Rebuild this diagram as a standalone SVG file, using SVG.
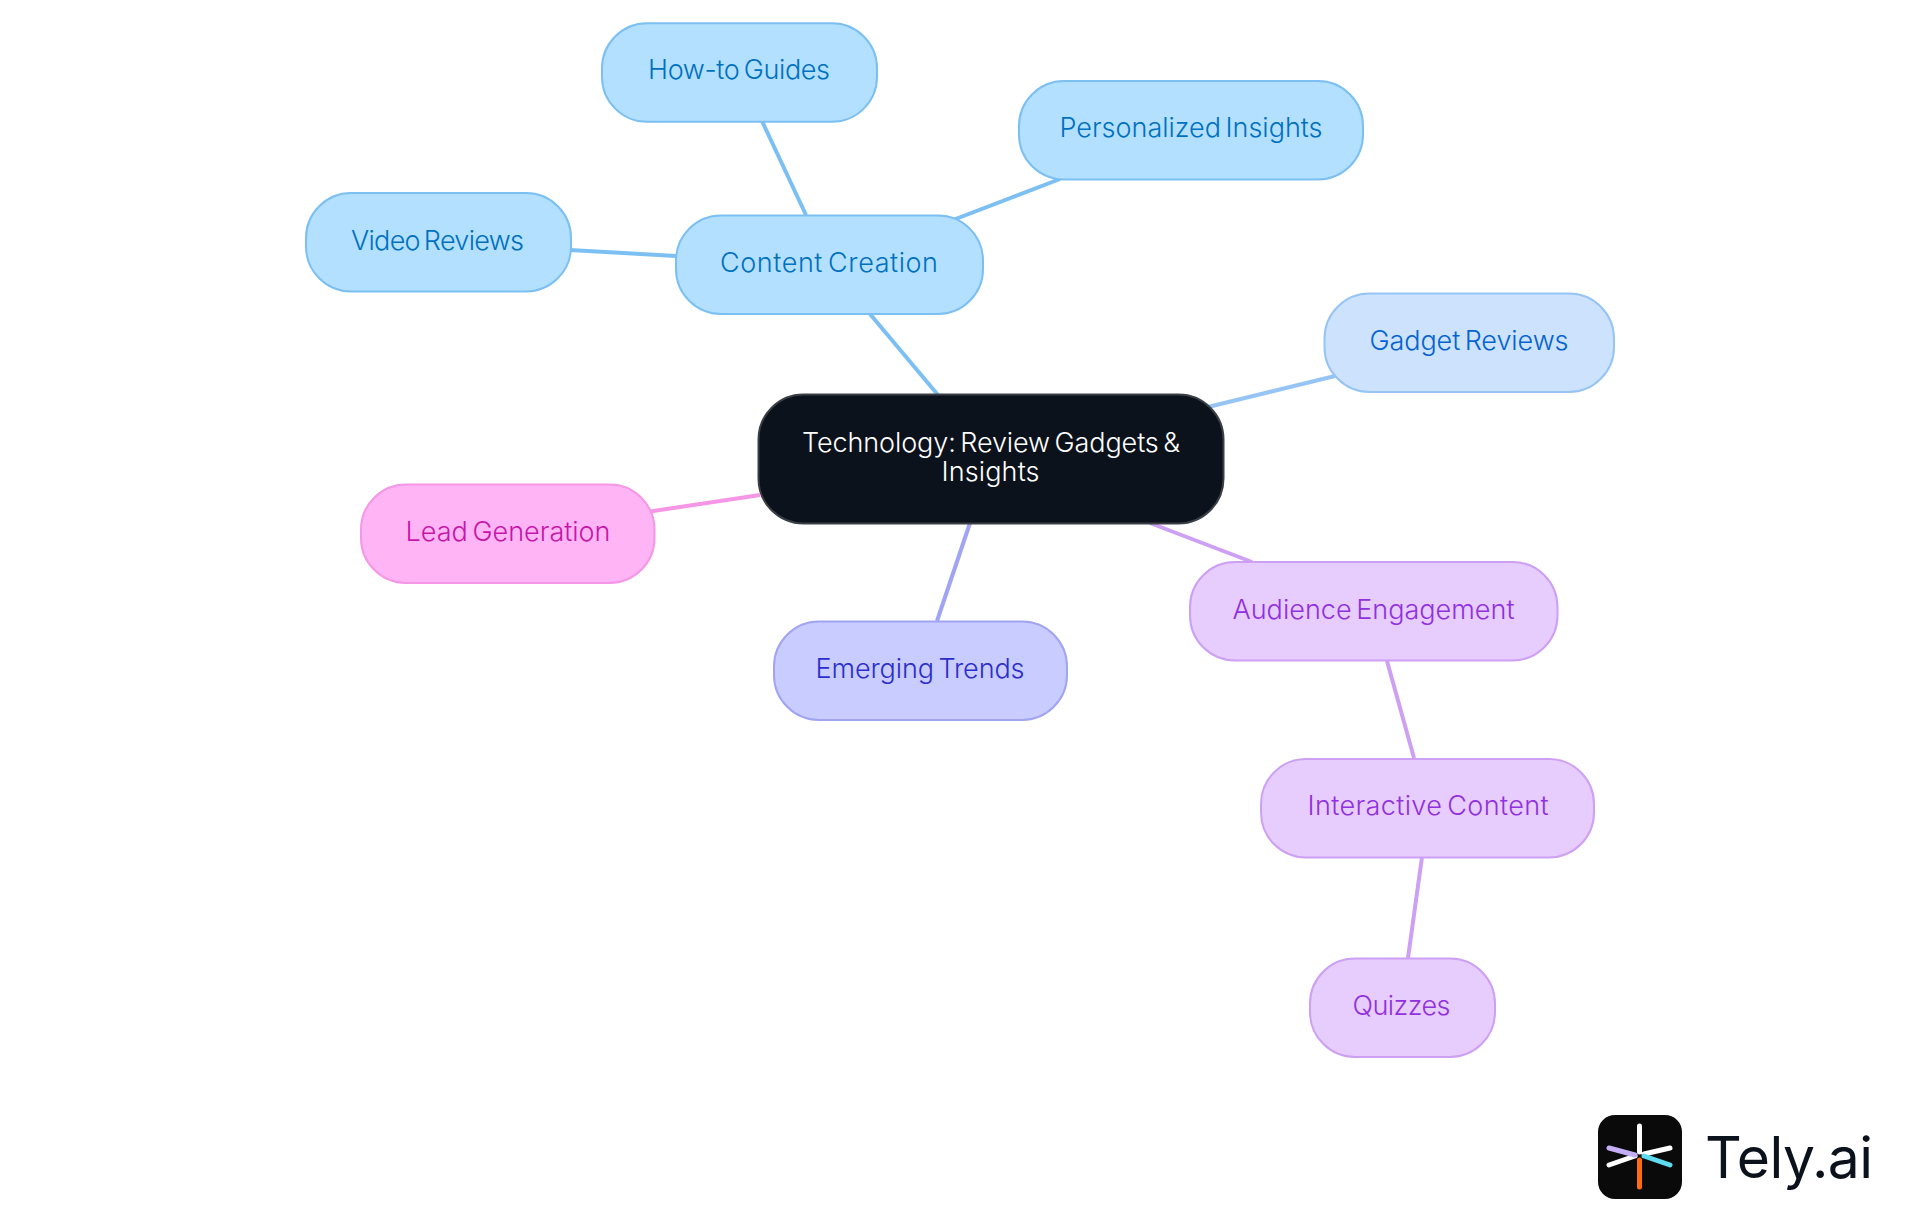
<svg xmlns="http://www.w3.org/2000/svg" width="1920" height="1215" viewBox="0 0 1920 1215">
<style>
text{font-family:Inter,"Noto Sans","Liberation Sans",sans-serif;font-size:27px;font-weight:350;text-anchor:middle;word-spacing:-3px}
.c{fill:none;stroke-width:4;stroke-linecap:butt}
.n{stroke-width:2}
.blue rect{fill:#b3e0ff;stroke:#7cc0f3}.blue text{fill:#0070c0}
.gad rect{fill:#cce2fd;stroke:#96c4f4}.gad text{fill:#0563d0}
.pink rect{fill:#ffb5f5;stroke:#f596e6}.pink text{fill:#c616a8}
.ind rect{fill:#c9ccff;stroke:#a0a4f3}.ind text{fill:#2c2ecc}
.pur rect{fill:#e7ccfe;stroke:#cda0f4}.pur text{fill:#9130dd}
</style>
<rect width="1920" height="1215" fill="#fff"/>
<g id="connectors">
<path class="c" stroke="#7cc0f3" d="M870 314L938 395M806 215L762 121M953 220L1060 179M676 256L570 250"/>
<path class="c" stroke="#96c4f4" d="M1208 407L1335 376"/>
<path class="c" stroke="#f596e6" d="M650 511.500L760 495"/>
<path class="c" stroke="#a0a4f3" d="M937 621L970 523"/>
<path class="c" stroke="#cda0f4" d="M1150 523L1252 562M1387 661L1414 758M1422 857L1408 958"/>
</g>
<g id="central"><rect x="758.500" y="394.500" width="465" height="129" rx="45" fill="#0c121b" stroke="#3a3f46" stroke-width="2"/>
<text x="991" y="451.500" fill="#fff" textLength="378">Technology: Review Gadgets &amp;</text><text x="990.500" y="481" fill="#fff" textLength="98">Insights</text></g>
<g id="howto" class="blue"><rect class="n" x="602" y="23.300" width="275" height="98.500" rx="45"/><text x="739" y="79" textLength="182">How-to Guides</text></g>
<g id="personalized" class="blue"><rect class="n" x="1019" y="81" width="344" height="98.500" rx="45"/><text x="1191" y="137" textLength="263">Personalized Insights</text></g>
<g id="video" class="blue"><rect class="n" x="306" y="193" width="265" height="98.500" rx="45"/><text x="437.500" y="250" textLength="173">Video Reviews</text></g>
<g id="content" class="blue"><rect class="n" x="676" y="215.500" width="307" height="98.500" rx="45"/><text x="829" y="272" textLength="218">Content Creation</text></g>
<g id="gadget" class="gad"><rect class="n" x="1324.500" y="293.500" width="289.500" height="98.500" rx="45"/><text x="1469" y="350" textLength="199">Gadget Reviews</text></g>
<g id="lead" class="pink"><rect class="n" x="361" y="484.500" width="293.500" height="98.500" rx="45"/><text x="508" y="541" textLength="205">Lead Generation</text></g>
<g id="emerging" class="ind"><rect class="n" x="774" y="621.500" width="293" height="98.500" rx="45"/><text x="920" y="678" textLength="209">Emerging Trends</text></g>
<g id="audience" class="pur"><rect class="n" x="1190" y="562" width="367.500" height="98.500" rx="45"/><text x="1373.500" y="619" textLength="282">Audience Engagement</text></g>
<g id="interactive" class="pur"><rect class="n" x="1261" y="759" width="333" height="98.500" rx="45"/><text x="1428" y="815" textLength="241">Interactive Content</text></g>
<g id="quizzes" class="pur"><rect class="n" x="1310" y="958.500" width="185" height="98.500" rx="45"/><text x="1401.500" y="1015" textLength="98">Quizzes</text></g>
<g id="logo">
<rect x="1598" y="1115" width="84" height="84" rx="17" fill="#0a0a0a"/>
<g stroke-width="5" stroke-linecap="round" fill="none">
<path stroke="#fff" d="M1639.500 1126V1152M1609 1165L1635 1156M1644 1154L1670 1148"/>
<path stroke="#c4aef5" d="M1609 1148L1635 1155"/>
<path stroke="#5fdcef" d="M1644 1156L1670 1165"/>
<path stroke="#ff6a13" d="M1639.500 1160V1187"/>
</g>
<text x="1789" y="1178" fill="#0c121b" style="font-size:57px;font-weight:400;word-spacing:0" textLength="168">Tely.ai</text>
</g>
</svg>
